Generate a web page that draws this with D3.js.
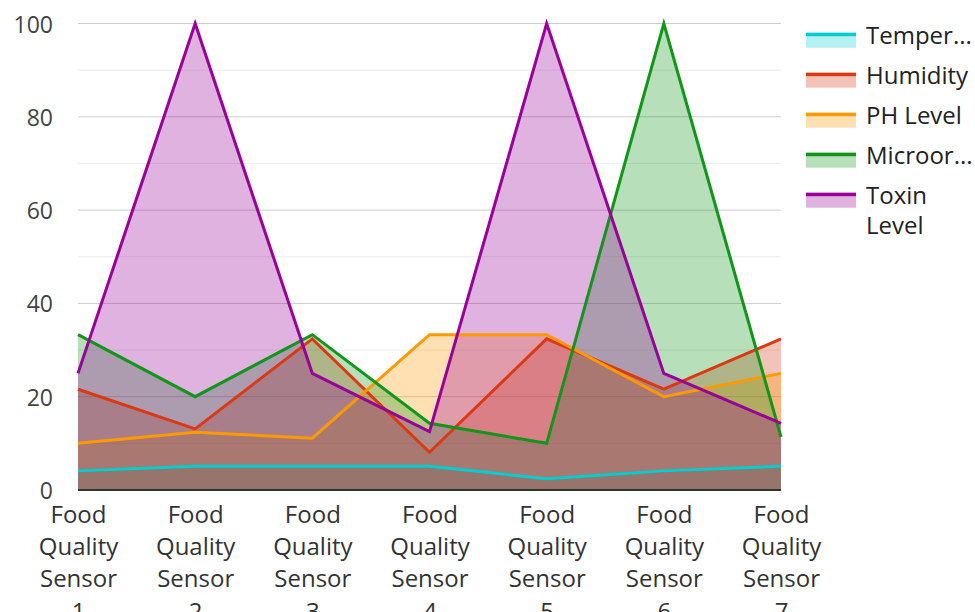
<!DOCTYPE html>
<html>
<head>
<meta charset="utf-8">
<script src="https://cdn.jsdelivr.net/npm/d3@7"></script>
<style>
  html, body { margin: 0; padding: 0; background: #fff; }
  svg { display: block; font-family: "Open Sans", sans-serif; }
</style>
</head>
<body>
<svg id="chart" width="975" height="612"></svg>
<script>
// Sensor readings per location
const categories = ["Food Quality Sensor 1", "Food Quality Sensor 2", "Food Quality Sensor 3",
  "Food Quality Sensor 4", "Food Quality Sensor 5", "Food Quality Sensor 6", "Food Quality Sensor 7"];
const seriesNames = ["Temperature", "Humidity", "PH Level", "Microorganism", "Toxin Level"];
const seriesColors = ["#00CED1", "#DC3912", "#FF9900", "#109618", "#990099"];
const temperature   = [4.1, 5.1, 5.1, 5.1, 2.4, 4.1, 5.1];
const humidity      = [21.6, 13.1, 32.4, 8.1, 32.4, 21.6, 32.4];
const phLevel       = [10, 12.4, 11.1, 33.3, 33.3, 20, 25];
const microorganism = [33.3, 20, 33.3, 14.3, 10, 100, 11.4];
const toxinLevel    = [25, 100, 25, 12.5, 100, 25, 14.3];
const yTicks = [0, 20, 40, 60, 80, 100];
const yMinorTicks = [10, 30, 50, 70, 90];

const seriesValues = [temperature, humidity, phLevel, microorganism, toxinLevel];
const series = seriesNames.map((name, i) => ({ name, color: seriesColors[i], values: seriesValues[i] }));

const svg = d3.select("#chart");
const plotLeft = 78, plotRight = 781, plotTop = 23.5, plotBottom = 490;
const fontSize = 24;
const yFontSize = 23;

const x = d3.scalePoint().domain(categories).range([plotLeft, plotRight]);
const y = d3.scaleLinear().domain([0, 100]).range([plotBottom, plotTop]);

// Grid lines
svg.append("g").selectAll("line").data(yMinorTicks).join("line")
  .attr("x1", plotLeft).attr("x2", plotRight)
  .attr("y1", d => y(d)).attr("y2", d => y(d))
  .attr("stroke", "#ebebeb").attr("stroke-width", 1);
svg.append("g").selectAll("line").data(yTicks.filter(d => d !== 0)).join("line")
  .attr("x1", plotLeft).attr("x2", plotRight)
  .attr("y1", d => y(d)).attr("y2", d => y(d))
  .attr("stroke", "#cccccc").attr("stroke-width", 1);

// Y axis labels
const yAxis = d3.axisLeft(y).tickValues(yTicks).tickSize(0).tickPadding(0);
const yg = svg.append("g").attr("transform", `translate(${plotLeft - 25},0)`).call(yAxis);
yg.select(".domain").remove();
yg.selectAll("text").attr("font-size", yFontSize).attr("font-family", "Open Sans, sans-serif")
  .attr("fill", "#444").attr("dy", "0.37em");

// Areas
const area = d3.area()
  .x((d, i) => x(categories[i]))
  .y0(y(0))
  .y1(d => y(d));
const line = d3.line()
  .x((d, i) => x(categories[i]))
  .y(d => y(d));

svg.append("g").selectAll("path").data(series).join("path")
  .attr("d", d => area(d.values))
  .attr("fill", d => d.color).attr("fill-opacity", 0.3);

// Baseline
svg.append("line").attr("x1", plotLeft).attr("x2", plotRight)
  .attr("y1", y(0)).attr("y2", y(0))
  .attr("stroke", "#333").attr("stroke-width", 2);

// Lines
svg.append("g").selectAll("path").data(series).join("path")
  .attr("d", d => line(d.values))
  .attr("fill", "none").attr("stroke", d => d.color)
  .attr("stroke-width", 3).attr("stroke-linejoin", "miter");

// X axis labels, wrapped word by word
const xAxis = d3.axisBottom(x).tickSize(0).tickPadding(0);
const xg = svg.append("g").attr("transform", `translate(0,${plotBottom})`).call(xAxis);
xg.select(".domain").remove();
xg.selectAll("text").each(function(d) {
  const t = d3.select(this);
  t.text(null).attr("font-size", fontSize).attr("font-family", "Open Sans, sans-serif")
    .attr("fill", "#333").attr("y", 0).attr("dy", null);
  d.split(" ").forEach((w, i) => {
    t.append("tspan").attr("x", 0).attr("y", 32.7 + i * 32.3).text(w);
  });
});

// Legend
const legendX = 806, textX = 866, maxTextW = 975 - textX;
const legend = svg.append("g");
let baseline = 44.3;
series.forEach(s => {
  const g = legend.append("g");
  g.append("rect").attr("x", legendX).attr("y", baseline - 11.6)
    .attr("width", 50).attr("height", 15)
    .attr("fill", s.color).attr("fill-opacity", 0.3);
  g.append("rect").attr("x", legendX).attr("y", baseline - 11.6)
    .attr("width", 50).attr("height", 3.5).attr("fill", s.color);
  const txt = g.append("text").attr("x", textX).attr("y", baseline)
    .attr("font-size", fontSize).attr("fill", "#222");
  txt.text(s.name);
  let lines = 1;
  if (txt.node().getComputedTextLength() > maxTextW) {
    const words = s.name.split(" ");
    if (words.length > 1) {
      txt.text(null);
      words.forEach((w, i) => txt.append("tspan").attr("x", textX).attr("y", baseline + i * 30).text(w));
      lines = words.length;
    } else {
      let str = s.name;
      while (str.length > 1) {
        str = str.slice(0, -1);
        txt.text(str + "...");
        if (txt.node().getComputedTextLength() <= maxTextW) break;
      }
    }
  }
  baseline += 40 + (lines - 1) * 30;
});
</script>
</body>
</html>
